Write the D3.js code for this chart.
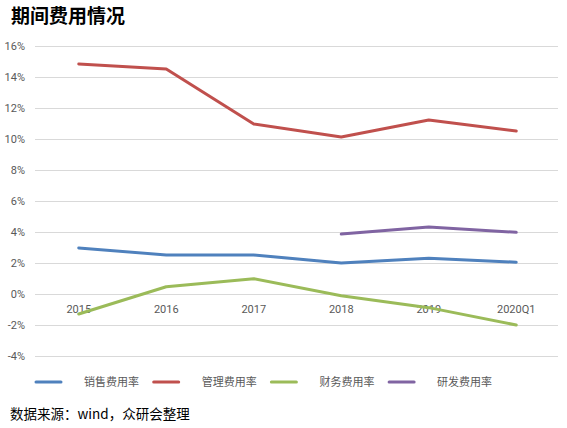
<!DOCTYPE html>
<html>
<head>
<meta charset="utf-8">
<script src="https://cdn.jsdelivr.net/npm/d3@7"></script>
<style>
  body { margin: 0; background: #fff; }
  svg { display: block; font-family: "Noto Sans CJK SC", sans-serif; }
  .grid line { stroke: #d9d9d9; stroke-width: 1; }
  .tick-label { fill: #595959; font-size: 11px; font-family: Roboto, "Noto Sans", sans-serif; }
  .legend text { fill: #595959; font-size: 11px; }
</style>
</head>
<body>
<div id="chart"></div>
<script>
(function () {
  const categories = ["2015", "2016", "2017", "2018", "2019", "2020Q1"];
  const sales = [2.97, 2.52, 2.52, 2.0, 2.30, 2.05];
  const admin = [14.84, 14.52, 10.97, 10.13, 11.23, 10.52];
  const finance = [-1.29, 0.47, 0.99, -0.11, -0.88, -2.0];
  const rnd = [null, null, null, 3.87, 4.32, 3.98];
  const yTicks = [-4, -2, 0, 2, 4, 6, 8, 10, 12, 14, 16];

  const series = [
    {name: "销售费用率", values: sales, color: "#4f81bd"},
    {name: "管理费用率", values: admin, color: "#c0504d"},
    {name: "财务费用率", values: finance, color: "#9bbb59"},
    {name: "研发费用率", values: rnd, color: "#8064a2"}
  ];

  const W = 567, H = 428;
  const margin = {top: 46, right: 7, bottom: 72, left: 35};

  const svg = d3.select("#chart").append("svg")
    .attr("width", W)
    .attr("height", H);

  const x = d3.scaleBand()
    .domain(categories)
    .range([margin.left, W - margin.right]);

  const y = d3.scaleLinear()
    .domain([-4, 16])
    .range([H - margin.bottom, margin.top]);

  // title
  svg.append("text")
    .attr("x", 11)
    .attr("y", 23)
    .attr("font-size", 19)
    .attr("font-weight", 700)
    .attr("fill", "#000")
    .text("期间费用情况");

  // grid
  svg.append("g")
    .attr("class", "grid")
    .selectAll("line")
    .data(yTicks)
    .join("line")
    .attr("x1", margin.left)
    .attr("x2", W - margin.right - 2)
    .attr("y1", d => Math.round(y(d)) + 0.5)
    .attr("y2", d => Math.round(y(d)) + 0.5);

  // y labels
  svg.append("g")
    .selectAll("text")
    .data(yTicks)
    .join("text")
    .attr("class", "tick-label")
    .attr("x", 25)
    .attr("y", d => y(d))
    .attr("dy", "0.35em")
    .attr("text-anchor", "end")
    .text(d => d + "%");

  // x labels, sitting just under the zero line
  svg.append("g")
    .selectAll("text")
    .data(categories)
    .join("text")
    .attr("class", "tick-label")
    .attr("x", d => x(d) + x.bandwidth() / 2)
    .attr("y", y(0) + 19)
    .attr("text-anchor", "middle")
    .text(d => d);

  const line = d3.line()
    .defined(d => d.v !== null)
    .x(d => x(d.c) + x.bandwidth() / 2)
    .y(d => y(d.v));

  svg.append("g")
    .selectAll("path")
    .data(series)
    .join("path")
    .attr("fill", "none")
    .attr("stroke", d => d.color)
    .attr("stroke-width", 3)
    .attr("stroke-linejoin", "round")
    .attr("stroke-linecap", "round")
    .attr("d", d => line(d.values.map((v, i) => ({c: categories[i], v: v}))));

  // legend
  const legend = svg.append("g")
    .attr("class", "legend")
    .selectAll("g")
    .data(series)
    .join("g")
    .attr("transform", (d, i) => "translate(" + (36 + i * 117.7) + ",382)");

  legend.append("line")
    .attr("x1", 0)
    .attr("x2", 25)
    .attr("stroke", d => d.color)
    .attr("stroke-width", 3)
    .attr("stroke-linecap", "round");

  legend.append("text")
    .attr("x", 48)
    .attr("dy", "0.35em")
    .text(d => d.name);

  // source note
  svg.append("text")
    .attr("x", 10)
    .attr("y", 419)
    .attr("font-size", 13.5)
    .attr("fill", "#000")
    .text("数据来源：wind，众研会整理");
})();
</script>
</body>
</html>
